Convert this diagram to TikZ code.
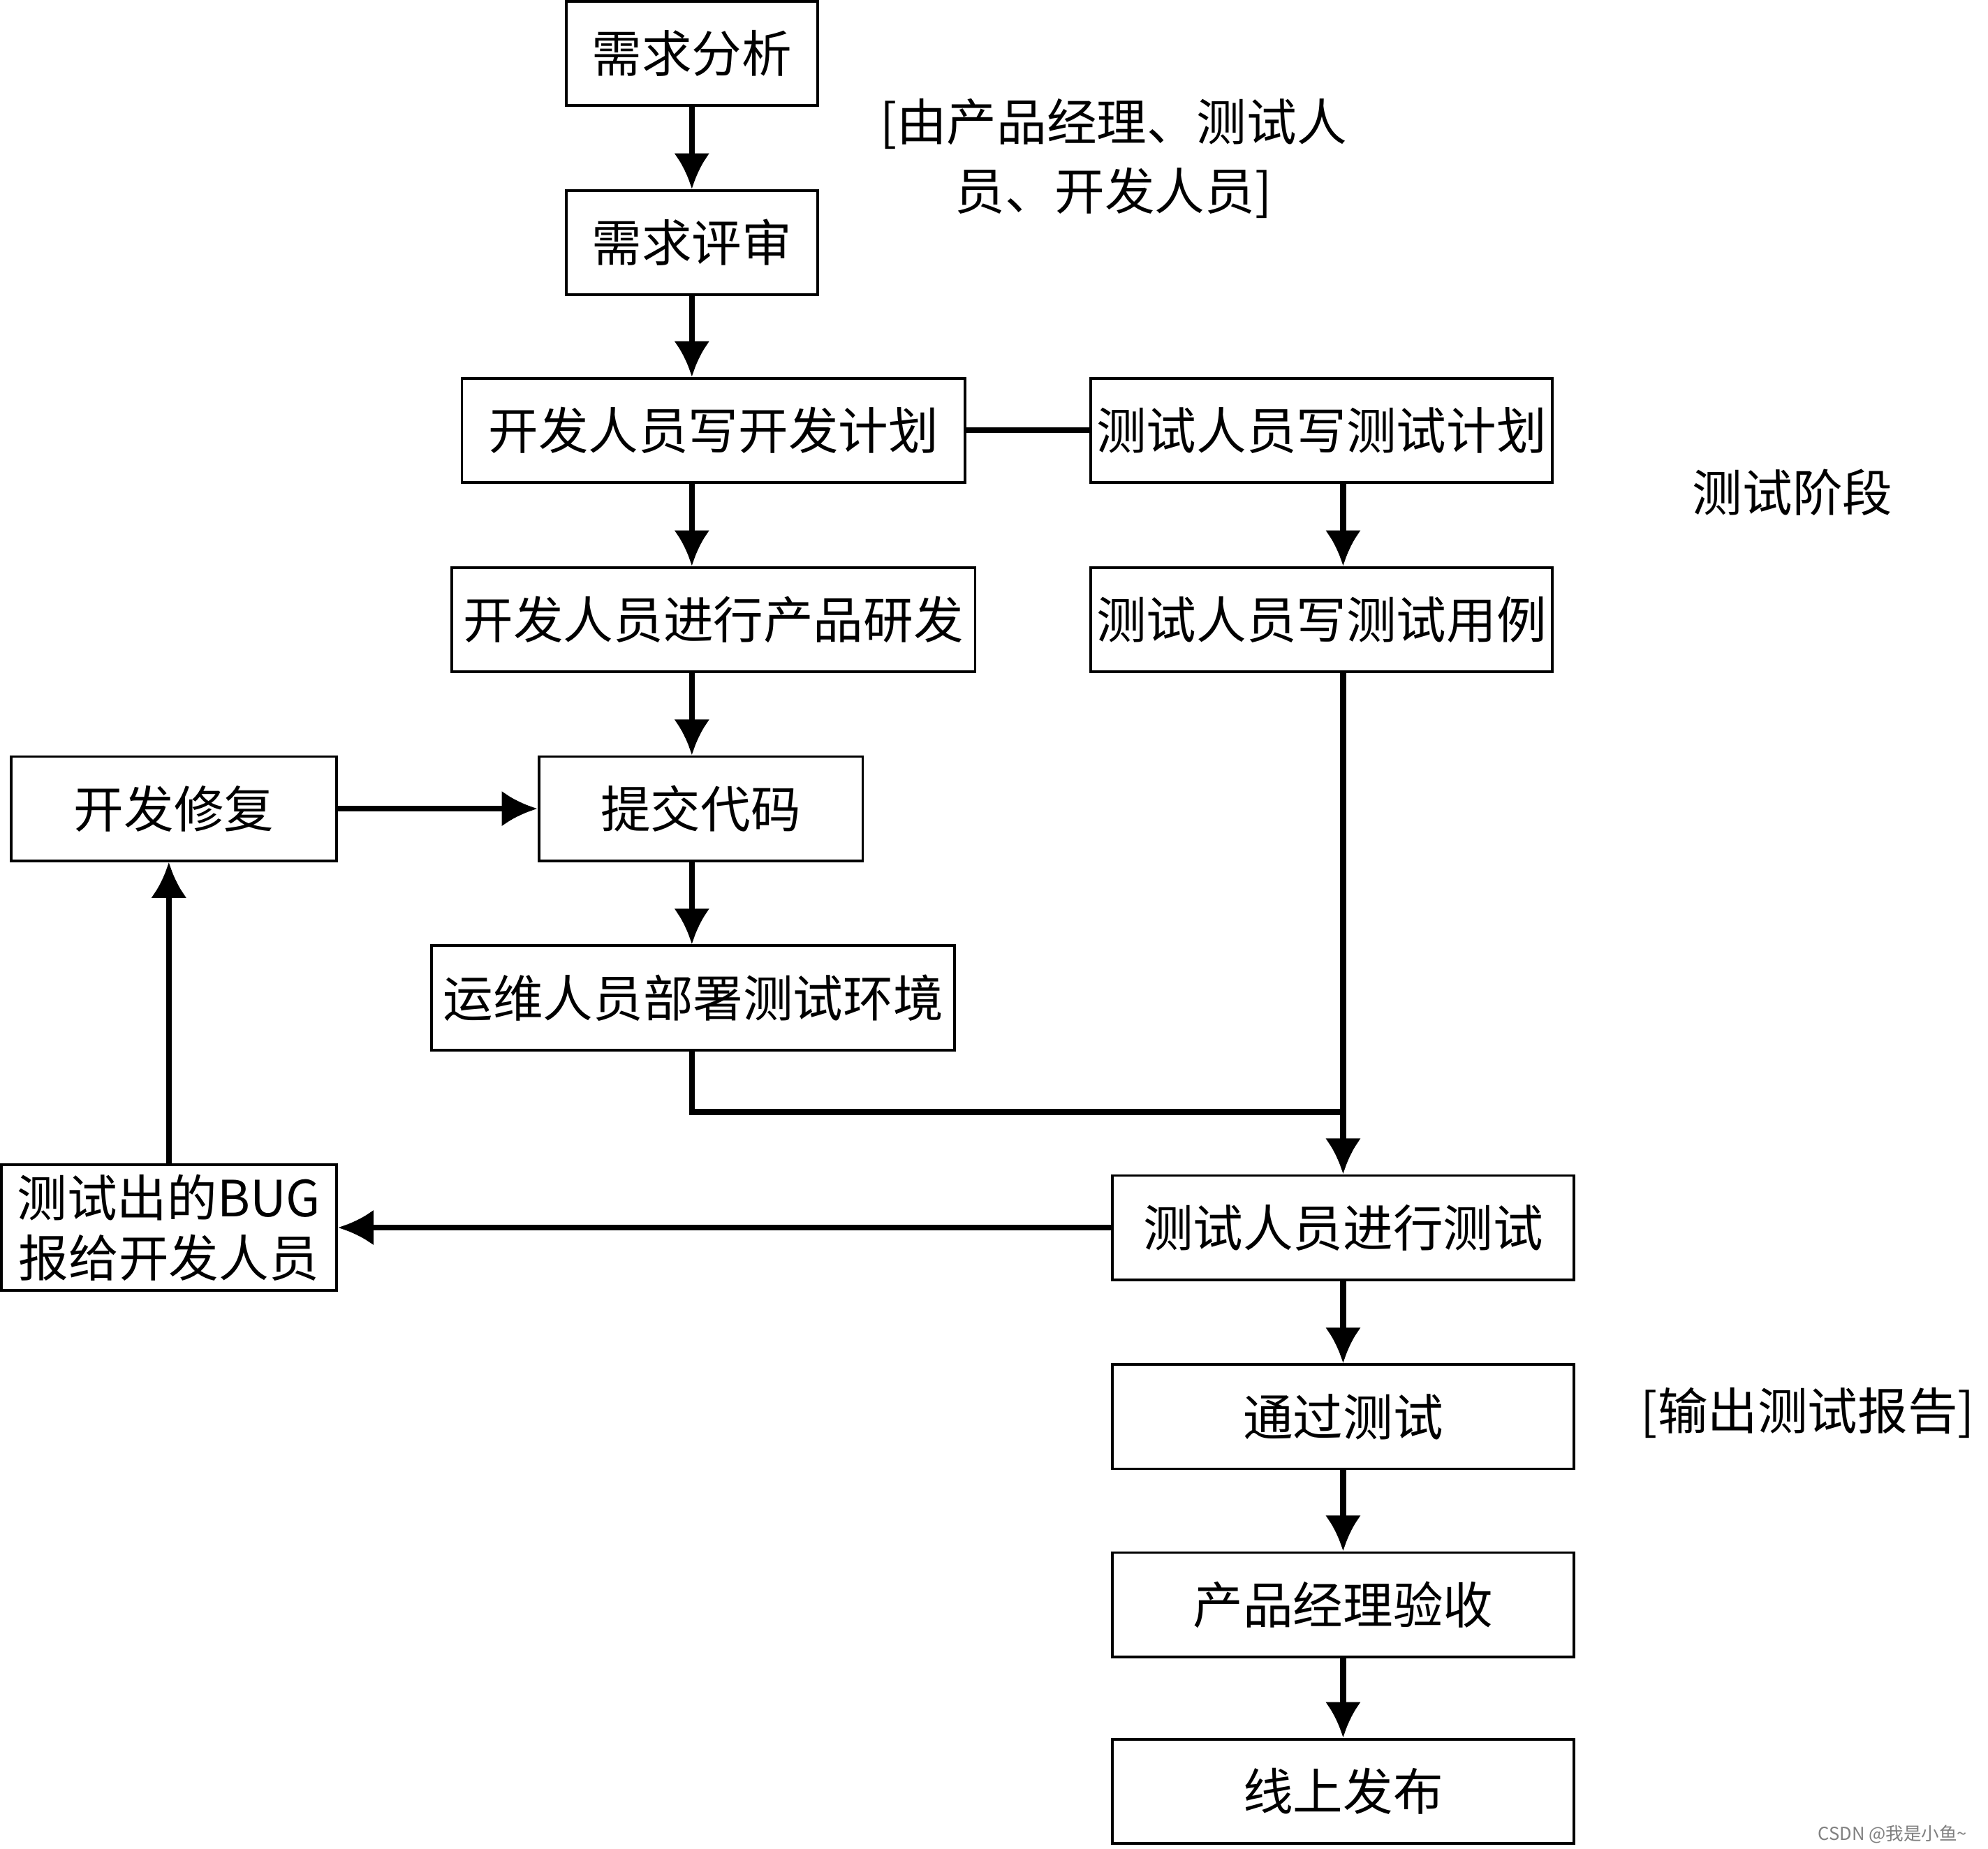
\documentclass[tikz,border=0pt]{standalone}
\usepackage{fontspec}
\setmainfont{Noto Sans CJK SC}
\begin{document}
\begin{tikzpicture}[x=0.01cm,y=-0.01cm,
 box/.style={draw,line width=0.6pt,minimum height=0.82cm,inner sep=0pt,font=\fontsize{11.2}{13.5}\selectfont,align=center},
 ar/.style={line width=1.3pt,-{Latex[length=8pt,width=8pt]}},
 ln/.style={line width=1.3pt},
 lbl/.style={font=\fontsize{11.2}{13.5}\selectfont,align=center}]
\usetikzlibrary{arrows.meta}
\useasboundingbox (0,0) rectangle (1566,1456);
\node[box,minimum width=1.98cm] (a) at (545,42) {需求分析};
\node[box,minimum width=1.98cm] (b) at (545,191) {需求评审};
\node[box,minimum width=3.96cm] (c) at (562,339) {开发人员写开发计划};
\node[box,minimum width=3.63cm] (d) at (1041,339) {测试人员写测试计划};
\node[box,minimum width=4.12cm] (e) at (562,488) {开发人员进行产品研发};
\node[box,minimum width=3.63cm] (f) at (1041,488) {测试人员写测试用例};
\node[box,minimum width=2.56cm] (g) at (137,637) {开发修复};
\node[box,minimum width=2.55cm] (h) at (552,637) {提交代码};
\node[box,minimum width=4.12cm] (i) at (546,786) {运维人员部署测试环境};
\node[box,minimum width=2.64cm,minimum height=0.99cm] (j) at (133,967) {测试出的BUG\\[0pt]报给开发人员};
\node[box,minimum width=3.63cm] (k) at (1058,967) {测试人员进行测试};
\node[box,minimum width=3.63cm] (l) at (1058,1116) {通过测试};
\node[box,minimum width=3.63cm] (m) at (1058,1264) {产品经理验收};
\node[box,minimum width=3.63cm] (n) at (1058,1411) {线上发布};
\node[lbl] (t1) at (877,125) {[由产品经理、测试人\\[2pt]员、开发人员]};
\node[lbl] (t2) at (1412,388) {测试阶段};
\node[lbl] (t3) at (1424,1113) {[输出测试报告]};
\node[font=\fontsize{4}{5}\selectfont,text=gray,anchor=east] (wm) at (1562,1445) {CSDN @我是小鱼\textasciitilde};
\draw[ar] (a.south -| 545,0) -- (b.north -| 545,0);
\draw[ar] (b.south -| 545,0) -- (c.north -| 545,0);
\draw[ln] (c) -- (d);
\draw[ar] (c.south -| 545,0) -- (e.north -| 545,0);
\draw[ar] (d.south -| 1058,0) -- (f.north -| 1058,0);
\draw[ar] (e.south -| 545,0) -- (h.north -| 545,0);
\draw[ar] (h.south -| 545,0) -- (i.north -| 545,0);
\draw[ar] (f.south -| 1058,0) -- (k.north -| 1058,0);
\draw[ln] (i.south -| 545,0) |- (1058,876);
\draw[ar] (k) -- (j);
\draw[ar] (j.north -| 133,0) -- (g.south -| 133,0);
\draw[ar] (g) -- (h);
\draw[ar] (k) -- (l);
\draw[ar] (l) -- (m);
\draw[ar] (m) -- (n);
\end{tikzpicture}
\end{document}
